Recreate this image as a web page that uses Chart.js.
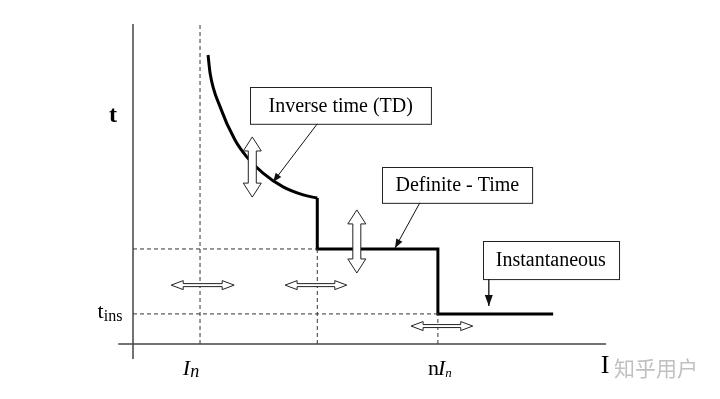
<!DOCTYPE html>
<html lang="en">
<head>
    <meta charset="UTF-8">
    <title>Relay characteristics</title>
    <script src="https://cdn.jsdelivr.net/npm/chart.js"></script>
    <style>
        body { margin: 0; background: #fff; }
        .chart-container { width: 720px; height: 399px; position: relative; }
    </style>
</head>
<body>
    <div class="chart-container">
        <canvas id="relay-chart"></canvas>
    </div>

    <script>
// Inverse time curve (current, time)
const curveI = [11.2, 11.5, 13.0, 15.2, 17.0, 19.4, 22.4, 25.4, 27.5];
const curveT = [90.3, 84.7, 74.1, 63.8, 58.4, 53.4, 49.1, 46.6, 45.6];

// Definite time + instantaneous steps
const stepI = [27.5, 27.5, 45.5, 45.5, 62.7];
const stepT = [45.6, 29.7, 29.7, 9.4, 9.4];

// Settings: In, knee current, nIn / definite time, t_ins
const settingI = [10, 27.5, 45.5];
const settingT = [29.7, 9.4];

// Tick labels
const xTickLabels = [["I", "n"], ["nI", "n"]];
const yTickLabels = [["t", ""], ["t", "ins"]];
const boxLabels = ["Inverse time (TD)", "Definite - Time", "Instantaneous"];

const pts = (xs, ys) => xs.map((x, i) => ({ x: x, y: ys[i] }));

// Layout of the annotations, in axis units
const axisX = [-2.2, 70.6];
const axisT = [-4.7, 100];
const boxes = [
    { x1: 17.5, x2: 44.5, y1: 80.3, y2: 68.8, lead: [27.5, 68.8, 20.9, 50.6], head: "open" },
    { x1: 37.2, x2: 59.6, y1: 55.3, y2: 44.1, lead: [42.8, 44.1, 39.1, 30.0], head: "open" },
    { x1: 52.2, x2: 72.5, y1: 32.2, y2: 20.3, lead: [53.1, 20.3, 53.1, 11.9], head: "fill" },
];
const hollowArrows = [
    { a: [17.8, 64.7], b: [17.8, 45.9], w: 9, s: 4, h: 14 },
    { a: [33.4, 41.9], b: [33.4, 22.2], w: 9, s: 4, h: 14 },
    { a: [5.7, 18.4], b: [15.1, 18.4], w: 4.5, s: 1.5, h: 12 },
    { a: [22.7, 18.4], b: [31.9, 18.4], w: 4.5, s: 1.5, h: 12 },
    { a: [41.5, 5.6], b: [50.7, 5.6], w: 4.5, s: 1.5, h: 12 },
];

const guide = (data) => ({
    data: data, showLine: true, borderColor: "#333", borderWidth: 1,
    borderDash: [4, 3], pointRadius: 0, tension: 0,
});

const serif = '"Liberation Serif", "Times New Roman", serif';

function drawSub(ctx, main, sub, cx, base, mainFont, subFont, drop) {
    ctx.font = mainFont;
    const w1 = ctx.measureText(main).width;
    ctx.font = subFont;
    const w2 = ctx.measureText(sub).width;
    const x0 = cx - (w1 + w2) / 2;
    ctx.textAlign = "left";
    ctx.textBaseline = "alphabetic";
    ctx.font = mainFont;
    ctx.fillText(main, x0, base);
    ctx.font = subFont;
    ctx.fillText(sub, x0 + w1, base + drop);
}

function hollowArrow(ctx, p1, p2, w, s, h) {
    const L = Math.hypot(p2[0] - p1[0], p2[1] - p1[1]);
    const ang = Math.atan2(p2[1] - p1[1], p2[0] - p1[0]);
    const shape = [[0, 0], [h, w], [h, s], [L - h, s], [L - h, w], [L, 0],
                   [L - h, -w], [L - h, -s], [h, -s], [h, -w]];
    ctx.save();
    ctx.translate(p1[0], p1[1]);
    ctx.rotate(ang);
    ctx.beginPath();
    shape.forEach((p, i) => i ? ctx.lineTo(p[0], p[1]) : ctx.moveTo(p[0], p[1]));
    ctx.closePath();
    ctx.fillStyle = "#fff";
    ctx.fill();
    ctx.strokeStyle = "#222";
    ctx.lineWidth = 1;
    ctx.stroke();
    ctx.restore();
}

const annotations = {
    id: "annotations",
    afterDatasetsDraw(chart) {
        const ctx = chart.ctx;
        const X = v => chart.scales.x.getPixelForValue(v);
        const Y = v => chart.scales.y.getPixelForValue(v);
        ctx.save();

        hollowArrows.forEach(a => {
            hollowArrow(ctx, [X(a.a[0]), Y(a.a[1])], [X(a.b[0]), Y(a.b[1])], a.w, a.s, a.h);
        });

        boxes.forEach((b, i) => {
            const x1 = X(b.x1), x2 = X(b.x2), y1 = Y(b.y1), y2 = Y(b.y2);
            ctx.fillStyle = "#fff";
            ctx.fillRect(x1, y1, x2 - x1, y2 - y1);
            ctx.strokeStyle = "#222";
            ctx.lineWidth = 1;
            ctx.strokeRect(Math.round(x1) + 0.5, Math.round(y1) + 0.5, x2 - x1, y2 - y1);
            ctx.fillStyle = "#000";
            ctx.font = "20px " + serif;
            ctx.textAlign = "center";
            ctx.textBaseline = "middle";
            ctx.fillText(boxLabels[i], (x1 + x2) / 2, (y1 + y2) / 2 + 1);

            // leader
            const sx = X(b.lead[0]), sy = Y(b.lead[1]), ex = X(b.lead[2]), ey = Y(b.lead[3]);
            const ang = Math.atan2(ey - sy, ex - sx);
            ctx.beginPath();
            ctx.moveTo(sx, sy);
            ctx.lineTo(ex, ey);
            ctx.lineWidth = b.head === "fill" ? 1.3 : 1;
            ctx.strokeStyle = "#111";
            ctx.stroke();
            const hl = b.head === "fill" ? 11 : 9, hw = b.head === "fill" ? 4 : 3.5;
            ctx.beginPath();
            ctx.moveTo(ex, ey);
            ctx.lineTo(ex - hl * Math.cos(ang) + hw * Math.sin(ang), ey - hl * Math.sin(ang) - hw * Math.cos(ang));
            ctx.lineTo(ex - hl * Math.cos(ang) - hw * Math.sin(ang), ey - hl * Math.sin(ang) + hw * Math.cos(ang));
            ctx.closePath();
            ctx.fillStyle = "#111";
            ctx.fill();
        });

        // axis labels
        ctx.fillStyle = "#000";
        const baseY = Y(0) + 31;
        drawSub(ctx, xTickLabels[0][0], xTickLabels[0][1], X(settingI[0]) - 9, baseY,
            "italic 22px " + serif, "italic 18px " + serif, 2);
        ctx.font = "22px " + serif;
        ctx.textAlign = "right";
        ctx.fillText("n", X(settingI[2]) + 1, baseY);
        drawSub(ctx, "I", "n", X(settingI[2]) + 7, baseY,
            "italic 22px " + serif, "italic 13px " + serif, 2);
        ctx.font = "26px " + serif;
        ctx.textAlign = "center";
        ctx.fillText("I", X(axisX[1]) - 1, baseY - 2);

        ctx.font = "bold 24px " + serif;
        ctx.fillText(yTickLabels[0][0], X(0) - 20, Y(69.5));
        drawSub(ctx, yTickLabels[1][0], yTickLabels[1][1], X(0) - 23, Y(settingT[1]) + 4,
            "22px " + serif, "16px " + serif, 3);

        // watermark
        ctx.font = '21px "Noto Sans CJK SC", sans-serif';
        ctx.fillStyle = "rgba(150,150,150,0.6)";
        ctx.textAlign = "left";
        ctx.fillText("知乎用户", X(axisX[1]) + 8, baseY + 1);
        ctx.restore();
    }
};

new Chart(document.getElementById("relay-chart"), {
    type: "scatter",
    data: {
        datasets: [
            // axes
            { data: pts(axisX, [0, 0]), showLine: true, borderColor: "#444", borderWidth: 1.5, pointRadius: 0 },
            { data: pts([0, 0], axisT), showLine: true, borderColor: "#444", borderWidth: 1.5, pointRadius: 0 },
            // dashed guides
            guide(pts([settingI[0], settingI[0]], [0, axisT[1]])),
            guide(pts([settingI[1], settingI[1]], [0, settingT[0]])),
            guide(pts([settingI[2], settingI[2]], [0, settingT[1]])),
            guide(pts([0, settingI[1]], [settingT[0], settingT[0]])),
            guide(pts([0, settingI[2]], [settingT[1], settingT[1]])),
            // characteristic
            { data: pts(curveI, curveT), showLine: true, borderColor: "#000", borderWidth: 3,
              pointRadius: 0, cubicInterpolationMode: "monotone" },
            { data: pts(stepI, stepT), showLine: true, borderColor: "#000", borderWidth: 3,
              pointRadius: 0, tension: 0, borderJoinStyle: "miter" },
        ]
    },
    options: {
        responsive: true,
        maintainAspectRatio: false,
        animation: false,
        layout: { padding: 0 },
        plugins: { legend: { display: false }, tooltip: { enabled: false } },
        scales: {
            x: { type: "linear", display: false, min: -19.85, max: 87.6 },
            y: { type: "linear", display: false, min: -17.19, max: 107.5 },
        },
    },
    plugins: [annotations],
});
    </script>
</body>
</html>
